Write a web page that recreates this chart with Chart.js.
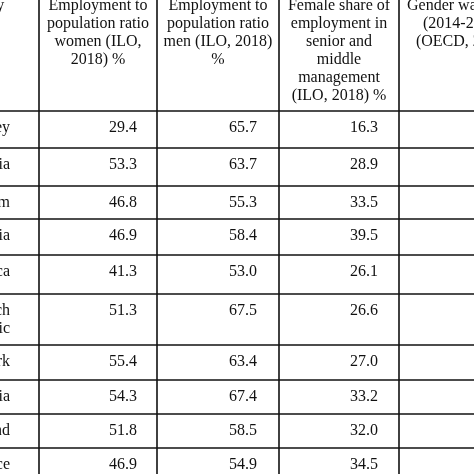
<!DOCTYPE html>
<html>
<head>
<meta charset="utf-8">
<script src="https://cdn.jsdelivr.net/npm/chart.js@4"></script>
<style>
  html, body { margin: 0; padding: 0; background: #fff; }
  canvas { display: block; }
</style>
</head>
<body>
<canvas id="chart" width="474" height="474"></canvas>
<script>
// ===============================
// Table data
// ===============================
const headers = [
  ["Country"],
  ["Employment to", "population ratio", "women (ILO,", "2018) %"],
  ["Employment to", "population ratio", "men (ILO, 2018)", "%"],
  ["Female share of", "employment in", "senior and", "middle", "management", "(ILO, 2018) %"],
  ["Gender wage gap", "(2014-2016)", "(OECD, 2018)"]
];
const countries = [
  ["Turkey"], ["Austria"], ["Belgium"], ["Bulgaria"], ["Costa Rica"],
  ["Czech", "Republic"], ["Denmark"], ["Estonia"], ["Finland"], ["France"]
];
const womenRatio = ["29.4", "53.3", "46.8", "46.9", "41.3", "51.3", "55.4", "54.3", "51.8", "46.9"];
const menRatio = ["65.7", "63.7", "55.3", "58.4", "53.0", "67.5", "63.4", "67.4", "58.5", "54.9"];
const femaleMgmt = ["16.3", "28.9", "33.5", "39.5", "26.1", "26.6", "27.0", "33.2", "32.0", "34.5"];

// layout (in scale units = pixels of the 474 box)
const colEdges = [-80, 39, 157, 279, 399, 527];
const rowEdges = [-20, 111, 148, 186, 219, 255, 294, 345, 380, 414, 448, 483];

const tablePlugin = {
  id: "table",
  afterDraw(chart) {
    const ctx = chart.ctx;
    const xs = chart.scales.x, ys = chart.scales.y;
    const X = v => xs.getPixelForValue(v);
    const Y = v => ys.getPixelForValue(v);
    ctx.save();
    ctx.strokeStyle = "#111";
    ctx.lineWidth = 1.6;
    colEdges.forEach(c => {
      ctx.beginPath(); ctx.moveTo(X(c), Y(rowEdges[0])); ctx.lineTo(X(c), Y(rowEdges[rowEdges.length - 1])); ctx.stroke();
    });
    rowEdges.forEach(r => {
      ctx.beginPath(); ctx.moveTo(X(colEdges[0]), Y(r)); ctx.lineTo(X(colEdges[colEdges.length - 1]), Y(r)); ctx.stroke();
    });

    ctx.fillStyle = "#111";
    ctx.font = "16px 'Liberation Serif'";
    ctx.textBaseline = "middle";

    // header
    headers.forEach((lines, i) => {
      const cx = i === 0 ? -22 : (colEdges[i] + colEdges[i + 1]) / 2;
      ctx.textAlign = "center";
      lines.forEach((t, k) => ctx.fillText(t, X(cx), Y(6 + k * 18)));
    });

    // body
    const cols = [womenRatio, menRatio, femaleMgmt];
    const rightEnds = [137, 257, 378];
    countries.forEach((name, r) => {
      const top = rowEdges[r + 1];
      ctx.textAlign = "right";
      name.forEach((t, k) => ctx.fillText(t, X(10), Y(top + 17 + k * 18)));
      cols.forEach((col, c) => ctx.fillText(col[r], X(rightEnds[c]), Y(top + 17)));
    });
    ctx.restore();
  }
};

new Chart(document.getElementById("chart"), {
  type: "scatter",
  data: { datasets: [] },
  options: {
    responsive: false,
    animation: false,
    layout: { padding: 0 },
    plugins: { legend: { display: false }, tooltip: { enabled: false } },
    scales: {
      x: { type: "linear", min: 0, max: 474, display: false },
      y: { type: "linear", min: 0, max: 474, reverse: true, display: false }
    }
  },
  plugins: [tablePlugin]
});
</script>
</body>
</html>
